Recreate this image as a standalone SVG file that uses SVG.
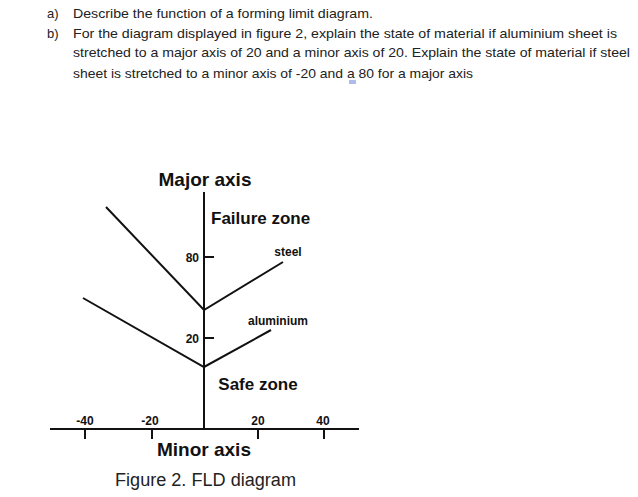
<svg xmlns="http://www.w3.org/2000/svg" width="638" height="497" viewBox="0 0 638 497">
<style>
.q{font-family:"Liberation Sans",Arial,sans-serif;font-size:13px;fill:#222}
.b{font-family:"Liberation Sans",Arial,sans-serif;font-weight:bold;fill:#111}
.ln{stroke:#111;stroke-width:2;fill:none}
</style>
<rect width="638" height="497" fill="#fff"/>
<g id="question">
<text class="q" x="47" y="18">a)</text>
<text class="q" x="73" y="18" textLength="300" lengthAdjust="spacingAndGlyphs">Describe the function of a forming limit diagram.</text>
<text class="q" x="47" y="38">b)</text>
<text class="q" x="73" y="38" textLength="544" lengthAdjust="spacingAndGlyphs">For the diagram displayed in figure 2, explain the state of material if aluminium sheet is</text>
<text class="q" x="73" y="57" textLength="557" lengthAdjust="spacingAndGlyphs">stretched to a major axis of 20 and a minor axis of 20. Explain the state of material if steel</text>
<text class="q" x="73" y="78" textLength="400" lengthAdjust="spacingAndGlyphs">sheet is stretched to a minor axis of -20 and a 80 for a major axis</text>
<path d="M349 81h7M349 83h7" stroke="#3355cc" stroke-width="0.8"/>
</g>
<g id="connectors">
<path class="ln" d="M204 192V430M50 429H359"/>
<path class="ln" d="M85 429v10M152 429v10M258 429v10M324 429v10M204 257h10M204 338h10"/>
<path class="ln" d="M106 207L204 310L283 262"/>
<path class="ln" d="M83 298L204 367L271 330"/>
</g>
<g id="labels">
<text class="b" x="205" y="186" font-size="19" text-anchor="middle">Major axis</text>
<text class="b" x="211" y="224" font-size="17">Failure zone</text>
<text class="b" x="199" y="262" font-size="12" text-anchor="end">80</text>
<text class="b" x="199" y="343" font-size="12" text-anchor="end">20</text>
<text class="b" x="288" y="256" font-size="12" text-anchor="middle">steel</text>
<text class="b" x="278" y="325" font-size="12" text-anchor="middle">aluminium</text>
<text class="b" x="258" y="390" font-size="17" text-anchor="middle">Safe zone</text>
<text class="b" x="85" y="425" font-size="12" text-anchor="middle">-40</text>
<text class="b" x="150" y="425" font-size="12" text-anchor="middle">-20</text>
<text class="b" x="258" y="425" font-size="12" text-anchor="middle">20</text>
<text class="b" x="323" y="425" font-size="12" text-anchor="middle">40</text>
<text class="b" x="204" y="456" font-size="19" text-anchor="middle">Minor axis</text>
<text x="115" y="486" font-size="18" textLength="181" lengthAdjust="spacingAndGlyphs" font-family="Liberation Sans,Arial,sans-serif" fill="#222">Figure 2. FLD diagram</text>
</g>
</svg>
